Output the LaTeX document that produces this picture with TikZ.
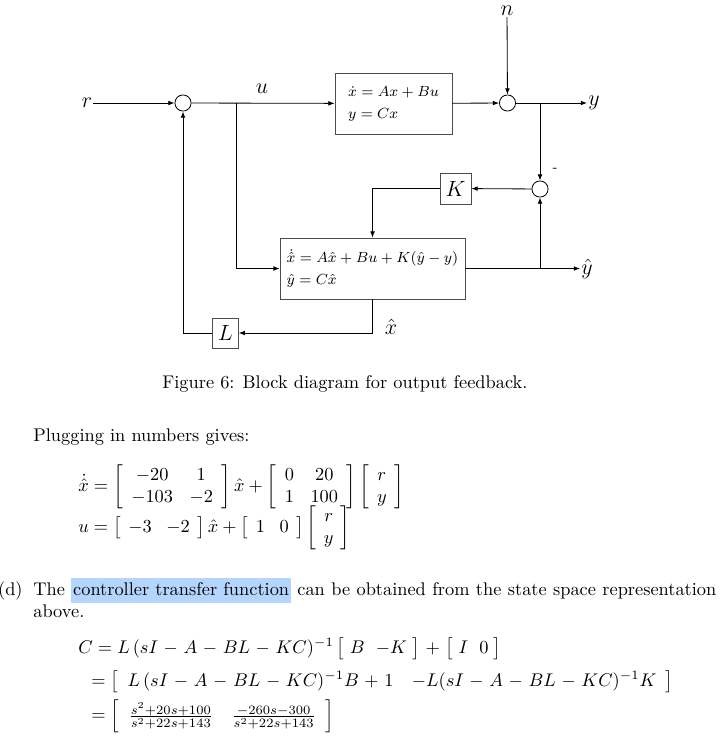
\documentclass[tikz,border=0pt]{standalone}
\usepackage{amsmath}
\usetikzlibrary{arrows.meta}
\definecolor{hl}{HTML}{B4D5FE}
\begin{document}
\begin{tikzpicture}[x=0.545pt,y=-0.545pt,
  blk/.style={draw=black!70, line width=0.45pt, inner sep=0pt},
  sumc/.style={circle, draw, line width=0.45pt, minimum size=8.8pt, inner sep=0pt},
  sig/.style={-{Latex[length=3.4pt,width=2.6pt]}, line width=0.45pt},
  lab/.style={font=\large, inner sep=0.5pt},
  boxtxt/.style={font=\footnotesize, align=left}
]
\useasboundingbox (0,0) rectangle (726,746);

% ---------- block diagram ----------
\node[lab] (r) at (87,103) {$r$};
\node[sumc] (s1) at (183,103) {};
\node[blk, minimum width=63.8pt, minimum height=33.2pt, boxtxt] (plant) at (393.5,103.5)
  {$\dot{x} = Ax + Bu$\\[2.5pt]$y = Cx$};
\node[sumc] (s2) at (507.5,103) {};
\node[lab] (n) at (507,11) {$n$};
\node[lab, anchor=west] (y) at (587,103) {$y$};
\node[lab] (u) at (262,89) {$u$};
\node[sumc] (s3) at (540,189) {};
\node[font=\scriptsize] (minus) at (555,170) {-};
\node[blk, minimum size=16.9pt, font=\large] (K) at (455.5,188.5) {$K$};
\node[blk, minimum width=100.8pt, minimum height=33.2pt, boxtxt] (obs) at (372.5,268.5)
  {$\dot{\hat{x}} = A\hat{x} + Bu + K(\hat{y} - y)$\\[2.5pt]$\hat{y} = C\hat{x}$};
\node[lab, anchor=west] (yhat) at (580,268.5) {$\hat{y}$};
\node[blk, minimum width=14pt, minimum height=16.4pt, font=\large] (L) at (225.5,333) {$L$};
\node[lab] (xhat) at (391,327) {$\hat{x}$};
\coordinate (ub) at (236,103);
\coordinate (yb) at (540,103);
\coordinate (yhb) at (540,268.5);

\draw[sig] (r) -- (s1);
\draw[sig] (s1) -- (plant);
\draw[sig] (ub) |- (obs.west);
\draw[sig] (plant) -- (s2);
\draw[sig] (n) -- (s2);
\draw[sig] (s2) -- (y);
\draw[sig] (yb) -- (s3);
\draw[sig] (s3) -- (K);
\draw[sig] (K.west) -| (obs.north);
\draw[sig] (obs.east) -- (yhat);
\draw[sig] (yhb) -- (s3);
\draw[sig] (obs.south) |- (L.east);
\draw[sig] (L.west) -| (s1.south);

% ---------- caption ----------
\node[anchor=base west, inner sep=0pt] (cap) at (162,388) {Figure 6: Block diagram for output feedback.};

% ---------- text ----------
\node[anchor=base west, inner sep=0pt] (plug) at (33,441) {Plugging in numbers gives:};
\node[anchor=west, inner sep=0pt] (eq1) at (78,487)
  {\setlength{\arraycolsep}{4.5pt}$\displaystyle \dot{\hat{x}} = \left[\begin{array}{cc} -20 & 1\\ -103 & -2\end{array}\right]\hat{x}
   + \left[\begin{array}{cc} 0 & 20\\ 1 & 100\end{array}\right]\left[\begin{array}{c} r\\ y\end{array}\right]$};
\node[anchor=west, inner sep=0pt] (eq2) at (78,528)
  {\setlength{\arraycolsep}{4pt}$\displaystyle u = \left[\begin{array}{cc} -3 & -2\end{array}\right]\hat{x}
   + \left[\begin{array}{cc} 1 & 0\end{array}\right]\left[\begin{array}{c} r\\ y\end{array}\right]$};

\node[anchor=base east, inner sep=0pt] (d) at (23,595) {(d)};
\node[anchor=base west, inner sep=0pt] (line1) at (33,595)
  {\makebox[372.2pt][s]{The {\setlength{\fboxsep}{1pt}\colorbox{hl}{\strut controller transfer function}} can be obtained from the state space representation}};
\node[anchor=base west, inner sep=0pt] (line2) at (33,617) {above.};

\node[anchor=west, inner sep=0pt] (c1) at (78,649)
  {\medmuskip=5.5mu\setlength{\arraycolsep}{3pt}$\displaystyle C = L\,(sI - A - BL - KC)^{-1}\left[\begin{array}{cc} B & -K\end{array}\right] + \left[\begin{array}{cc} I & 0\end{array}\right]$};
\node[anchor=west, inner sep=0pt] (c2) at (91,682)
  {\medmuskip=5.5mu$\displaystyle = \left[\begin{array}{cc} L\,(sI - A - BL - KC)^{-1}B + 1 & -L(sI - A - BL - KC)^{-1}K\end{array}\right]$};
\node[anchor=west, inner sep=0pt] (c3) at (91,716)
  {$\displaystyle = \left[\begin{array}{cc} \frac{s^2+20s+100}{s^2+22s+143} & \frac{-260s-300}{s^2+22s+143}\end{array}\right]$};
\end{tikzpicture}
\end{document}
